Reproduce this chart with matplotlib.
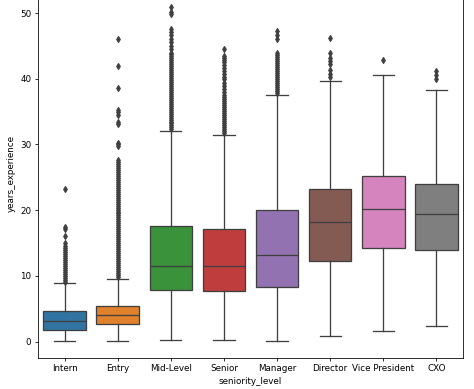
import matplotlib
matplotlib.use("Agg")
import matplotlib.pyplot as plt

# seniority levels and box statistics
levels = ["Intern", "Entry", "Mid-Level", "Senior", "Manager", "Director", "Vice President", "CXO"]
q1 = [1.8, 2.65, 7.9, 7.75, 8.35, 12.3, 14.2, 13.95]
med = [3.2, 4.0, 11.5, 11.5, 13.25, 18.15, 20.2, 19.45]
q3 = [4.65, 5.4, 17.6, 17.2, 20.05, 23.3, 25.2, 24.05]
whis_lo = [0.15, 0.15, 0.3, 0.3, 0.15, 0.9, 1.65, 2.3]
whis_hi = [8.9, 9.6, 32.0, 31.5, 37.6, 39.6, 40.6, 38.3]

# outliers (estimated)
fl_intern = [9.1, 9.4, 9.7, 10.0, 10.3, 10.6, 10.9, 11.2, 11.5, 11.8, 12.1, 12.4, 12.7,
             13.0, 13.3, 13.6, 13.9, 14.2, 14.5, 15.0, 16.1, 17.1, 17.4, 23.3]
fl_entry = [9.9, 10.2, 10.5, 10.8, 11.1, 11.4, 11.7, 12.0, 12.3, 12.6, 12.9, 13.2, 13.5,
            13.8, 14.1, 14.4, 14.7, 15.0, 15.3, 15.6, 15.9, 16.2, 16.5, 16.8, 17.1, 17.4,
            17.7, 18.0, 18.3, 18.6, 18.9, 19.2, 19.5, 19.8, 20.1, 20.4, 20.7, 21.0, 21.3,
            21.6, 21.9, 22.2, 22.5, 22.8, 23.1, 23.4, 23.7, 24.0, 24.3, 24.6, 24.9, 25.2,
            25.5, 25.8, 26.1, 26.4, 26.7, 27.0, 27.3, 27.7, 29.7, 30.0, 30.3, 33.1, 33.4,
            34.5, 34.9, 35.2, 38.6, 42.0, 46.1]
fl_mid = [32.3, 32.6, 32.9, 33.2, 33.5, 33.8, 34.1, 34.4, 34.7, 35.0, 35.3, 35.6, 35.9,
          36.2, 36.5, 36.8, 37.1, 37.4, 37.7, 38.0, 38.3, 38.6, 38.9, 39.2, 39.5, 39.8,
          40.1, 40.4, 40.7, 41.0, 41.3, 41.6, 41.9, 42.2, 42.5, 42.8, 43.1, 43.4, 43.7,
          44.0, 44.5, 45.0, 45.6, 46.1, 46.6, 47.1, 47.6, 49.8, 50.1, 51.0]
fl_senior = [31.8, 32.1, 32.4, 32.7, 33.0, 33.3, 33.6, 33.9, 34.2, 34.5, 34.8, 35.1, 35.4,
             35.7, 36.0, 36.3, 36.6, 36.9, 37.2, 37.6, 38.0, 38.4, 38.9, 39.4, 39.9, 40.3,
             40.7, 41.2, 41.7, 42.1, 42.5, 42.8, 43.1, 43.4, 44.6]
fl_manager = [37.9, 38.2, 38.5, 38.8, 39.1, 39.4, 39.7, 40.0, 40.3, 40.6, 40.9, 41.2, 41.5,
              41.8, 42.1, 42.4, 42.7, 43.0, 43.3, 43.6, 44.0, 46.0, 46.6, 47.2]
fl_director = [40.2, 40.7, 41.3, 42.2, 42.7, 43.2, 44.0, 46.2]
fl_vp = [42.9]
fl_cxo = [40.0, 40.6, 41.2]
fliers = [fl_intern, fl_entry, fl_mid, fl_senior, fl_manager, fl_director, fl_vp, fl_cxo]

colors = ["#3274a1", "#e1812c", "#3a923a", "#c03d3e", "#9372b2", "#845b53", "#d684bd", "#7f7f7f"]
gray = "#3f3f3f"
lw = 1.3

plt.rcParams["font.size"] = 8.8
plt.rcParams["xtick.major.size"] = 3.1
plt.rcParams["ytick.major.size"] = 3.1
plt.rcParams["axes.linewidth"] = 0.8

stats = []
for i in range(len(levels)):
    stats.append(dict(label=levels[i], q1=q1[i], med=med[i], q3=q3[i],
                      whislo=whis_lo[i], whishi=whis_hi[i], fliers=fliers[i]))

fig = plt.figure(figsize=(474 / 72, 389 / 72), dpi=72)
ax = fig.add_axes([38 / 474, 31.3 / 389, 425 / 474, 367.6 / 389])

res = ax.bxp(stats, positions=range(len(levels)), widths=0.8, patch_artist=True,
             boxprops=dict(edgecolor=gray, linewidth=lw),
             whiskerprops=dict(color=gray, linewidth=lw),
             capprops=dict(color=gray, linewidth=lw),
             medianprops=dict(color=gray, linewidth=lw),
             flierprops=dict(marker="d", markerfacecolor=gray, markeredgecolor=gray,
                             markersize=4.4, linestyle="none"))
for box, c in zip(res["boxes"], colors):
    box.set_facecolor(c)

ax.set_xlim(-0.5, 7.5)
ax.set_ylim(-2.45, 53.5)
ax.set_xticks(range(len(levels)))
ax.set_xticklabels(levels)
ax.set_yticks([0, 10, 20, 30, 40, 50])
ax.set_xlabel("seniority_level")
ax.set_ylabel("years_experience")

fig.savefig("out.png", dpi=72)
